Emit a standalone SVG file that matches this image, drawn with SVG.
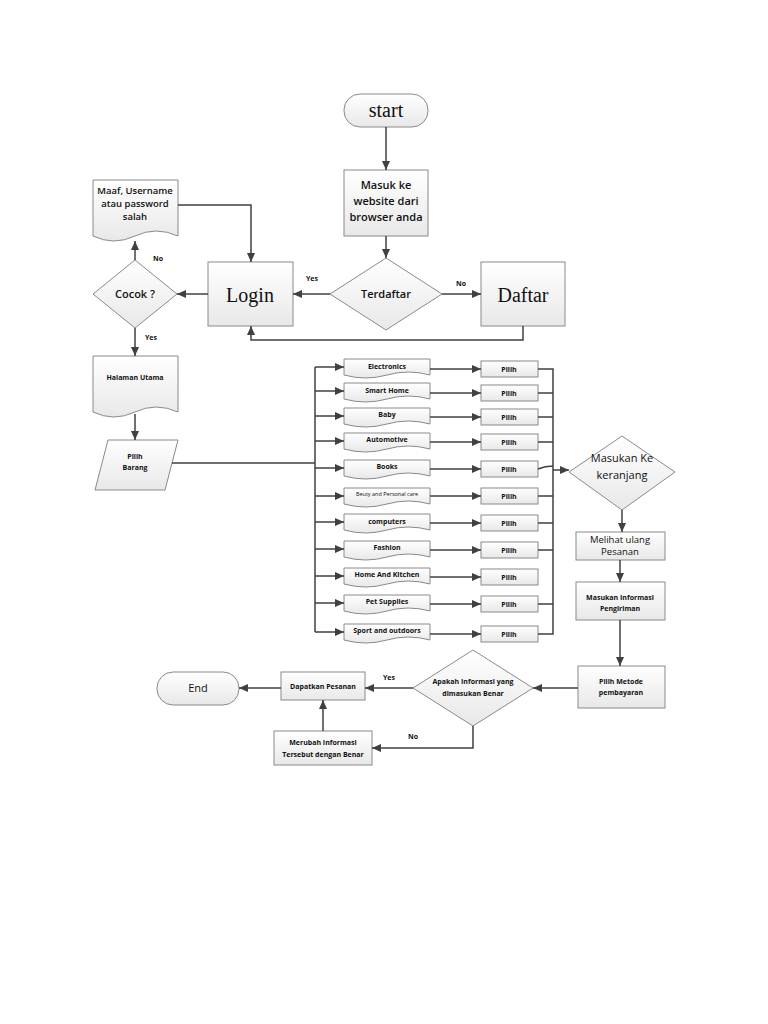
<svg xmlns="http://www.w3.org/2000/svg" width="768" height="1024" viewBox="0 0 768 1024">
<defs>
<marker id="a" markerWidth="10" markerHeight="10" refX="9" refY="5" orient="auto" markerUnits="userSpaceOnUse"><path d="M0,1 L9,5 L0,9 z" fill="#404040"/></marker>
<linearGradient id="g" x1="0" y1="0" x2="0" y2="1"><stop offset="0" stop-color="#ffffff"/><stop offset="1" stop-color="#e8e8e8"/></linearGradient>
</defs>
<style>
.s{fill:url(#g);stroke:#8a8a8a;stroke-width:1}
.c{fill:none;stroke:#404040;stroke-width:1.5}
text{font-family:"Open Sans","Liberation Sans",sans-serif;fill:#111;text-anchor:middle}
.b{font-weight:bold;font-size:7px}
.m{font-size:11px}
.mb{font-size:11px;font-weight:600}
.sr{font-family:"Liberation Serif",serif;font-size:20px}
</style>
<rect width="768" height="1024" fill="#fff"/>
<g id="start"><rect class="s" x="344" y="94" width="84" height="33" rx="16"/><text class="sr" x="386" y="117">start</text></g>
<g id="masuk"><rect class="s" x="344" y="170" width="84" height="66"/><text class="mb" x="386" y="189">Masuk ke</text><text class="mb" x="386" y="205">website dari</text><text class="mb" x="386" y="221">browser anda</text></g>
<g id="terdaftar"><path class="s" d="M386,258 L442,294 L386,330 L330,294 z"/><text class="mb" x="386" y="298" font-size="10">Terdaftar</text></g>
<g id="login"><rect class="s" x="208" y="262" width="85" height="64"/><text class="sr" x="250" y="302">Login</text></g>
<g id="daftar"><rect class="s" x="481" y="262" width="84" height="64"/><text class="sr" x="523" y="302">Daftar</text></g>
<g id="cocok"><path class="s" d="M135,260 L177,294 L135,328 L93,294 z"/><text class="mb" x="135" y="298">Cocok ?</text></g>
<g id="maaf"><path class="s" d="M93,180 H178 V236 Q156,226 135,236 T93,236 z"/><text x="135" y="194" font-size="9.5" font-weight="600">Maaf, Username</text><text x="135" y="207" font-size="9.5" font-weight="600">atau password</text><text x="135" y="220" font-size="9.5" font-weight="600">salah</text></g>
<g id="halaman"><path class="s" d="M93,356 H178 V412 Q156,402 135,412 T93,412 z"/><text class="b" x="135" y="380">Halaman Utama</text></g>
<g id="pilihbarang"><path class="s" d="M108,440 H178 L165,490 H95 z"/><text class="b" x="135" y="459">Pilih</text><text class="b" x="135" y="470">Barang</text></g>
<g id="cats">
<path class="s" d="M344,359 H430 V375 Q408,369 387,375 T344,375 z"/><text class="b" x="387" y="369">Electronics</text>
<path class="s" d="M344,383 H430 V399 Q408,393 387,399 T344,399 z"/><text class="b" x="387" y="393">Smart Home</text>
<path class="s" d="M344,408 H430 V424 Q408,418 387,424 T344,424 z"/><text class="b" x="387" y="417">Baby</text>
<path class="s" d="M344,433 H430 V449 Q408,443 387,449 T344,449 z"/><text class="b" x="387" y="442">Automotive</text>
<path class="s" d="M344,460 H430 V476 Q408,470 387,476 T344,476 z"/><text class="b" x="387" y="469">Books</text>
<path class="s" d="M344,488 H430 V504 Q408,498 387,504 T344,504 z"/><text x="387" y="496" font-size="5.5">Beuty and Personal care</text>
<path class="s" d="M344,514 H430 V530 Q408,524 387,530 T344,530 z"/><text class="b" x="387" y="524">computers</text>
<path class="s" d="M344,541 H430 V557 Q408,551 387,557 T344,557 z"/><text class="b" x="387" y="550">Fashion</text>
<path class="s" d="M344,568 H430 V584 Q408,578 387,584 T344,584 z"/><text class="b" x="387" y="577">Home And Kitchen</text>
<path class="s" d="M344,595 H430 V611 Q408,605 387,611 T344,611 z"/><text class="b" x="387" y="604">Pet Supplies</text>
<path class="s" d="M344,624 H430 V640 Q408,634 387,640 T344,640 z"/><text class="b" x="387" y="633">Sport and outdoors</text>
</g>
<g id="pilih">
<rect class="s" x="481" y="361" width="57" height="16"/><text class="b" x="509" y="372">Pilih</text>
<rect class="s" x="481" y="385" width="57" height="16"/><text class="b" x="509" y="396">Pilih</text>
<rect class="s" x="481" y="409" width="57" height="16"/><text class="b" x="509" y="420">Pilih</text>
<rect class="s" x="481" y="434" width="57" height="16"/><text class="b" x="509" y="445">Pilih</text>
<rect class="s" x="481" y="461" width="57" height="16"/><text class="b" x="509" y="472">Pilih</text>
<rect class="s" x="481" y="488" width="57" height="16"/><text class="b" x="509" y="499">Pilih</text>
<rect class="s" x="481" y="515" width="57" height="16"/><text class="b" x="509" y="526">Pilih</text>
<rect class="s" x="481" y="542" width="57" height="16"/><text class="b" x="509" y="553">Pilih</text>
<rect class="s" x="481" y="569" width="57" height="16"/><text class="b" x="509" y="580">Pilih</text>
<rect class="s" x="481" y="596" width="57" height="16"/><text class="b" x="509" y="607">Pilih</text>
<rect class="s" x="481" y="626" width="57" height="16"/><text class="b" x="509" y="637">Pilih</text>
</g>
<g id="keranjang"><path class="s" d="M622,436 L675,472 L622,510 L569,472 z"/><text class="m" x="622" y="462">Masukan Ke</text><text class="m" x="622" y="479">keranjang</text></g>
<g id="melihat"><rect class="s" x="576" y="532" width="89" height="28"/><text x="620" y="543" font-size="9.5">Melihat ulang</text><text x="620" y="555" font-size="9.5">Pesanan</text></g>
<g id="pengiriman"><rect class="s" x="576" y="582" width="89" height="38"/><text class="b" x="620" y="600">Masukan Informasi</text><text class="b" x="620" y="611">Pengiriman</text></g>
<g id="metode"><rect class="s" x="578" y="666" width="87" height="42"/><text class="b" x="621" y="684">Pilih Metode</text><text class="b" x="621" y="695">pembayaran</text></g>
<g id="apakah"><path class="s" d="M473,650 L533,688 L473,726 L413,688 z"/><text class="b" x="473" y="684">Apakah Informasi yang</text><text class="b" x="473" y="696">dimasukan Benar</text></g>
<g id="dapatkan"><rect class="s" x="281" y="672" width="84" height="28"/><text class="b" x="323" y="689">Dapatkan Pesanan</text></g>
<g id="end"><rect class="s" x="157" y="672" width="82" height="33" rx="16"/><text class="m" x="198" y="692">End</text></g>
<g id="merubah"><rect class="s" x="274" y="731" width="98" height="34"/><text class="b" x="323" y="745">Merubah Informasi</text><text class="b" x="323" y="757">Tersebut dengan Benar</text></g>
<g id="connectors">
<path class="c" marker-end="url(#a)" d="M386,127 V170"/>
<path class="c" marker-end="url(#a)" d="M386,236 V258"/>
<path class="c" marker-end="url(#a)" d="M330,294 H293"/>
<path class="c" marker-end="url(#a)" d="M442,294 H481"/>
<path class="c" marker-end="url(#a)" d="M523,326 V340 H251 V326"/>
<path class="c" marker-end="url(#a)" d="M208,294 H177"/>
<path class="c" marker-end="url(#a)" d="M135,260 V241"/>
<path class="c" marker-end="url(#a)" d="M178,205 H251 V262"/>
<path class="c" marker-end="url(#a)" d="M135,328 V356"/>
<path class="c" marker-end="url(#a)" d="M135,414 V440"/>
<path class="c" d="M172,463 H315 M315,367 V632"/>
<g marker-end="url(#a)">
<path class="c" d="M315,367 H344"/><path class="c" d="M315,391 H344"/><path class="c" d="M315,416 H344"/><path class="c" d="M315,441 H344"/><path class="c" d="M315,468 H344"/><path class="c" d="M315,496 H344"/><path class="c" d="M315,522 H344"/><path class="c" d="M315,549 H344"/><path class="c" d="M315,576 H344"/><path class="c" d="M315,603 H344"/><path class="c" d="M315,632 H344"/>
<path class="c" d="M430,369 H481"/><path class="c" d="M430,393 H481"/><path class="c" d="M430,417 H481"/><path class="c" d="M430,442 H481"/><path class="c" d="M430,469 H481"/><path class="c" d="M430,496 H481"/><path class="c" d="M430,523 H481"/><path class="c" d="M430,550 H481"/><path class="c" d="M430,577 H481"/><path class="c" d="M430,604 H481"/><path class="c" d="M430,634 H481"/>
</g>
<path class="c" d="M538,369 H553 V634 H538 M538,393 H553 M538,417 H553 M538,442 H553 M538,496 H553 M538,523 H553 M538,550 H553 M538,604 H553 M538,469 Q545,466 553,466"/>
<path class="c" marker-end="url(#a)" d="M553,470 H569"/>
<path class="c" marker-end="url(#a)" d="M622,510 V532"/>
<path class="c" marker-end="url(#a)" d="M620,560 V582"/>
<path class="c" marker-end="url(#a)" d="M620,620 V666"/>
<path class="c" marker-end="url(#a)" d="M578,688 H533"/>
<path class="c" marker-end="url(#a)" d="M413,688 H365"/>
<path class="c" marker-end="url(#a)" d="M281,688 H239"/>
<path class="c" marker-end="url(#a)" d="M473,726 V748 H372"/>
<path class="c" marker-end="url(#a)" d="M323,731 V700"/>
</g>
<g id="labels">
<text class="b" x="312" y="281">Yes</text>
<text class="b" x="461" y="286">No</text>
<text class="b" x="158" y="261">No</text>
<text class="b" x="151" y="340">Yes</text>
<text class="b" x="389" y="680">Yes</text>
<text class="b" x="413" y="739">No</text>
</g>
</svg>
